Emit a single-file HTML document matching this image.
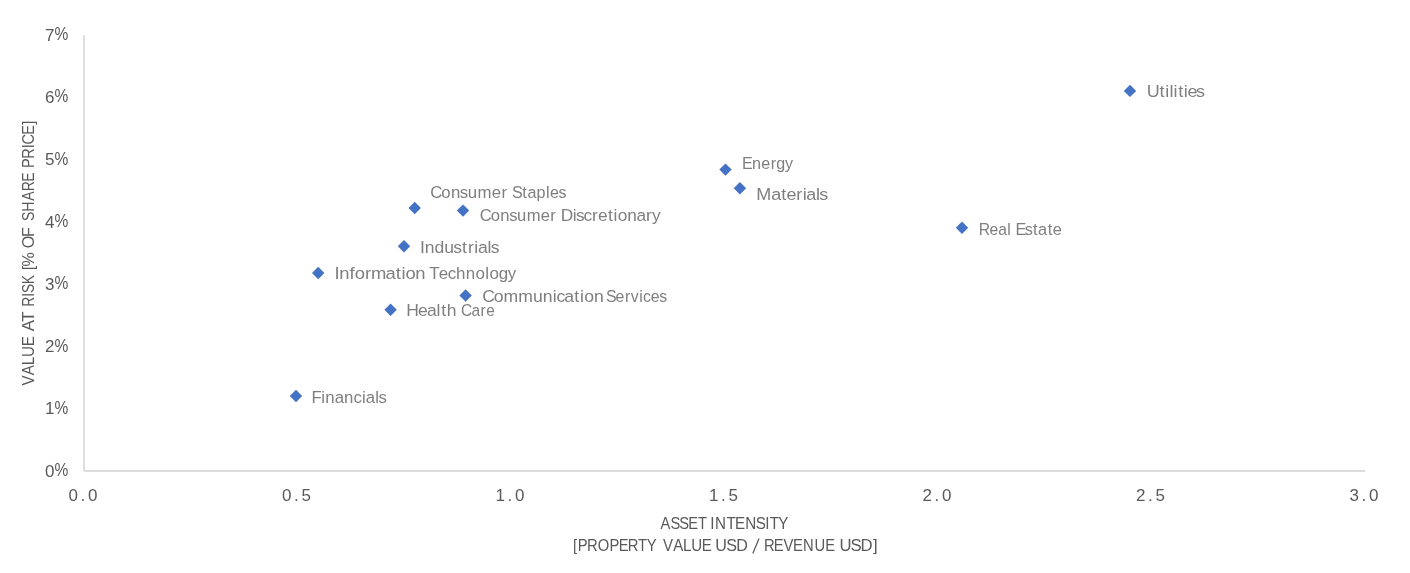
<!DOCTYPE html>
<html><head><meta charset="utf-8"><style>
html,body{margin:0;padding:0;background:#fff;}
body{width:1410px;height:573px;overflow:hidden;}
svg{display:block;will-change:transform;font-family:"Liberation Sans",sans-serif;font-kerning:none;}
</style></head><body>
<svg width="1410" height="573" viewBox="0 0 1410 573">
<rect width="1410" height="573" fill="#fff"/>
<rect x="83.2" y="35.3" width="1.7" height="435.5" fill="#d9d9d9"/>
<rect x="84" y="470.1" width="1281" height="1.8" fill="#d9d9d9"/>
<text x="49.75" y="476.7" text-anchor="middle" fill="#595959" font-size="17">0</text>
<text x="54.55" y="476.1" textLength="13.81" lengthAdjust="spacingAndGlyphs" fill="#595959" font-size="18">%</text>
<text x="49.75" y="414.4" text-anchor="middle" fill="#595959" font-size="17">1</text>
<text x="54.55" y="413.8" textLength="13.81" lengthAdjust="spacingAndGlyphs" fill="#595959" font-size="18">%</text>
<text x="49.75" y="352.1" text-anchor="middle" fill="#595959" font-size="17">2</text>
<text x="54.55" y="351.5" textLength="13.81" lengthAdjust="spacingAndGlyphs" fill="#595959" font-size="18">%</text>
<text x="49.75" y="289.8" text-anchor="middle" fill="#595959" font-size="17">3</text>
<text x="54.55" y="289.2" textLength="13.81" lengthAdjust="spacingAndGlyphs" fill="#595959" font-size="18">%</text>
<text x="49.75" y="227.5" text-anchor="middle" fill="#595959" font-size="17">4</text>
<text x="54.55" y="226.9" textLength="13.81" lengthAdjust="spacingAndGlyphs" fill="#595959" font-size="18">%</text>
<text x="49.75" y="165.2" text-anchor="middle" fill="#595959" font-size="17">5</text>
<text x="54.55" y="164.7" textLength="13.81" lengthAdjust="spacingAndGlyphs" fill="#595959" font-size="18">%</text>
<text x="49.75" y="103.0" text-anchor="middle" fill="#595959" font-size="17">6</text>
<text x="54.55" y="102.4" textLength="13.81" lengthAdjust="spacingAndGlyphs" fill="#595959" font-size="18">%</text>
<text x="49.75" y="40.7" text-anchor="middle" fill="#595959" font-size="17">7</text>
<text x="54.55" y="40.1" textLength="13.81" lengthAdjust="spacingAndGlyphs" fill="#595959" font-size="18">%</text>
<text x="82.9" y="500.8" text-anchor="middle" textLength="29" lengthAdjust="spacing" fill="#595959" font-size="17">0.0</text>
<text x="296.4" y="500.8" text-anchor="middle" textLength="29" lengthAdjust="spacing" fill="#595959" font-size="17">0.5</text>
<text x="509.9" y="500.8" text-anchor="middle" textLength="29" lengthAdjust="spacing" fill="#595959" font-size="17">1.0</text>
<text x="723.4" y="500.8" text-anchor="middle" textLength="29" lengthAdjust="spacing" fill="#595959" font-size="17">1.5</text>
<text x="936.9" y="500.8" text-anchor="middle" textLength="29" lengthAdjust="spacing" fill="#595959" font-size="17">2.0</text>
<text x="1150.4" y="500.8" text-anchor="middle" textLength="29" lengthAdjust="spacing" fill="#595959" font-size="17">2.5</text>
<text x="1363.9" y="500.8" text-anchor="middle" textLength="29" lengthAdjust="spacing" fill="#595959" font-size="17">3.0</text>
<path d="M1130 84.7L1136.2 90.9L1130 97.10000000000001L1123.8 90.9Z" fill="#4472C4"/>
<path d="M725.5 163.4L731.7 169.6L725.5 175.79999999999998L719.3 169.6Z" fill="#4472C4"/>
<path d="M739.9 182.10000000000002L746.1 188.3L739.9 194.5L733.6999999999999 188.3Z" fill="#4472C4"/>
<path d="M962 221.5L968.2 227.7L962 233.89999999999998L955.8 227.7Z" fill="#4472C4"/>
<path d="M414.7 201.8L420.9 208L414.7 214.2L408.5 208Z" fill="#4472C4"/>
<path d="M463 204.4L469.2 210.6L463 216.79999999999998L456.8 210.6Z" fill="#4472C4"/>
<path d="M404 240.0L410.2 246.2L404 252.39999999999998L397.8 246.2Z" fill="#4472C4"/>
<path d="M318.2 266.8L324.4 273L318.2 279.2L312.0 273Z" fill="#4472C4"/>
<path d="M465.6 289.3L471.8 295.5L465.6 301.7L459.40000000000003 295.5Z" fill="#4472C4"/>
<path d="M390.6 303.6L396.8 309.8L390.6 316.0L384.40000000000003 309.8Z" fill="#4472C4"/>
<path d="M296 389.8L302.2 396L296 402.2L289.8 396Z" fill="#4472C4"/>
<text transform="matrix(1.0585 0 0 1 0 0)" x="1083.28 1095.47 1100.80 1104.76 1108.72 1113.11 1118.44 1121.87 1129.99" y="96.9" fill="#7f7f7f" font-size="17">Utilities</text>
<text transform="matrix(0.9470 0 0 1 0 0)" x="783.59 794.14 803.84 813.77 819.65 828.89" y="168.7" fill="#7f7f7f" font-size="17">Energy</text>
<text transform="matrix(1.0594 0 0 1 0 0)" x="713.82 727.90 737.42 742.37 751.72 757.75 761.14 770.21 773.31" y="199.9" fill="#7f7f7f" font-size="17">Materials</text>
<text transform="matrix(0.9223 0 0 1 0 0)" x="1061.27 1072.87 1082.44 1092.22" y="234.9" fill="#7f7f7f" font-size="17">Real</text>
<text transform="matrix(0.9595 0 0 1 0 0)" x="1058.33 1067.97 1076.65 1081.89 1091.87 1097.30" y="234.9" fill="#7f7f7f" font-size="17">Estate</text>
<text transform="matrix(0.9879 0 0 1 0 0)" x="435.53 446.76 456.52 465.48 473.50 483.42 497.79 507.54" y="197.8" fill="#7f7f7f" font-size="17">Consumer</text>
<text transform="matrix(0.9478 0 0 1 0 0)" x="540.27 551.14 556.53 566.10 576.13 580.23 589.18" y="197.8" fill="#7f7f7f" font-size="17">Staples</text>
<text transform="matrix(0.9774 0 0 1 0 0)" x="490.94 502.18 511.93 520.90 528.91 538.83 553.20 562.95" y="221.2" fill="#7f7f7f" font-size="17">Consumer</text>
<text transform="matrix(1.0186 0 0 1 0 0)" x="550.52 562.38 565.60 572.93 581.29 587.02 596.88 602.43 606.41 615.87 624.91 634.25 640.05" y="221.2" fill="#7f7f7f" font-size="17">Discretionary</text>
<text transform="matrix(1.0346 0 0 1 0 0)" x="406.03 410.64 420.06 429.48 438.18 446.58 452.25 458.39 461.92 471.12 474.33" y="252.6" fill="#7f7f7f" font-size="17">Industrials</text>
<text transform="matrix(1.0861 0 0 1 0 0)" x="307.98 312.29 321.78 326.56 335.98 341.60 354.93 364.29 369.61 373.28 382.31" y="279.1" fill="#7f7f7f" font-size="17">Information</text>
<text transform="matrix(0.9987 0 0 1 0 0)" x="429.88 439.44 448.42 456.70 466.39 476.11 485.93 490.09 499.30 508.31" y="279.1" fill="#7f7f7f" font-size="17">Technology</text>
<text transform="matrix(1.0365 0 0 1 0 0)" x="465.34 476.26 485.79 500.12 514.34 523.76 533.37 536.86 544.47 554.13 559.67 563.62 573.05" y="301.8" fill="#7f7f7f" font-size="17">Communication</text>
<text transform="matrix(0.9329 0 0 1 0 0)" x="649.59 659.80 669.89 676.23 685.20 689.16 697.60 706.68" y="301.8" fill="#7f7f7f" font-size="17">Services</text>
<text transform="matrix(1.0310 0 0 1 0 0)" x="394.03 405.48 414.23 423.42 428.01 433.34" y="316" fill="#7f7f7f" font-size="17">Health</text>
<text transform="matrix(0.9138 0 0 1 0 0)" x="504.62 515.86 525.80 532.13" y="316" fill="#7f7f7f" font-size="17">Care</text>
<text transform="matrix(0.9888 0 0 1 0 0)" x="314.96 324.77 329.06 338.55 348.03 357.47 366.00 369.86 379.40 382.90" y="403" fill="#7f7f7f" font-size="17">Financials</text>
<text transform="matrix(0.8649 0 0 1 0 0)" x="763.63 775.11 785.25 795.72 806.97" y="529.1" fill="#595959" font-size="17">ASSET</text>
<text transform="matrix(0.8949 0 0 1 0 0)" x="793.58 799.10 811.78 821.40 832.67 844.58 855.24 860.06 869.67" y="529.1" fill="#595959" font-size="17">INTENSITY</text>
<text transform="matrix(0.8712 0 0 1 0 0)" x="657.68 663.09 673.84 686.12 699.54 710.17 720.61 732.46 742.29" y="551.5" fill="#595959" font-size="17">[PROPERTY</text>
<text transform="matrix(0.8863 0 0 1 0 0)" x="747.94 759.56 770.63 779.98 791.90" y="551.5" fill="#595959" font-size="17">VALUE</text>
<text transform="matrix(0.9465 0 0 1 0 0)" x="755.60 767.35 777.88" y="551.5" fill="#595959" font-size="17">USD</text>
<text transform="matrix(0.8704 0 0 1 0 0)" x="877.84 889.06 900.07 911.08 922.44 935.87 948.13" y="551.5" fill="#595959" font-size="17">REVENUE</text>
<text transform="matrix(0.9820 0 0 1 0 0)" x="854.80 866.10 876.20 889.05" y="551.5" fill="#595959" font-size="17">USD]</text>
<line x1="752.8" y1="553.6" x2="759.0" y2="538.6" stroke="#595959" stroke-width="1.25"/>
<g transform="translate(34.0 0) rotate(-90)">
<text transform="matrix(0.8937 0 0 1 0 0)" x="-431.44 -419.82 -408.75 -399.40 -387.48" y="0" fill="#595959" font-size="17">VALUE</text>
<text transform="matrix(0.9910 0 0 1 0 0)" x="-334.35 -324.73" y="0" fill="#595959" font-size="17">AT</text>
<text transform="matrix(0.8119 0 0 1 0 0)" x="-377.92 -365.44 -360.96 -350.23" y="0" fill="#595959" font-size="17">RISK</text>
<text transform="matrix(0.9430 0 0 1 0 0)" x="-286.47 -282.49" y="0" fill="#595959" font-size="17">[%</text>
<text transform="matrix(0.9548 0 0 1 0 0)" x="-260.03 -248.09" y="0" fill="#595959" font-size="17">OF</text>
<text transform="matrix(0.8258 0 0 1 0 0)" x="-267.55 -256.48 -243.19 -231.69 -220.23" y="0" fill="#595959" font-size="17">SHARE</text>
<text transform="matrix(0.8601 0 0 1 0 0)" x="-195.32 -184.64 -172.49 -168.01 -156.80 -145.12" y="0" fill="#595959" font-size="17">PRICE]</text>
</g>
</svg>
</body></html>
